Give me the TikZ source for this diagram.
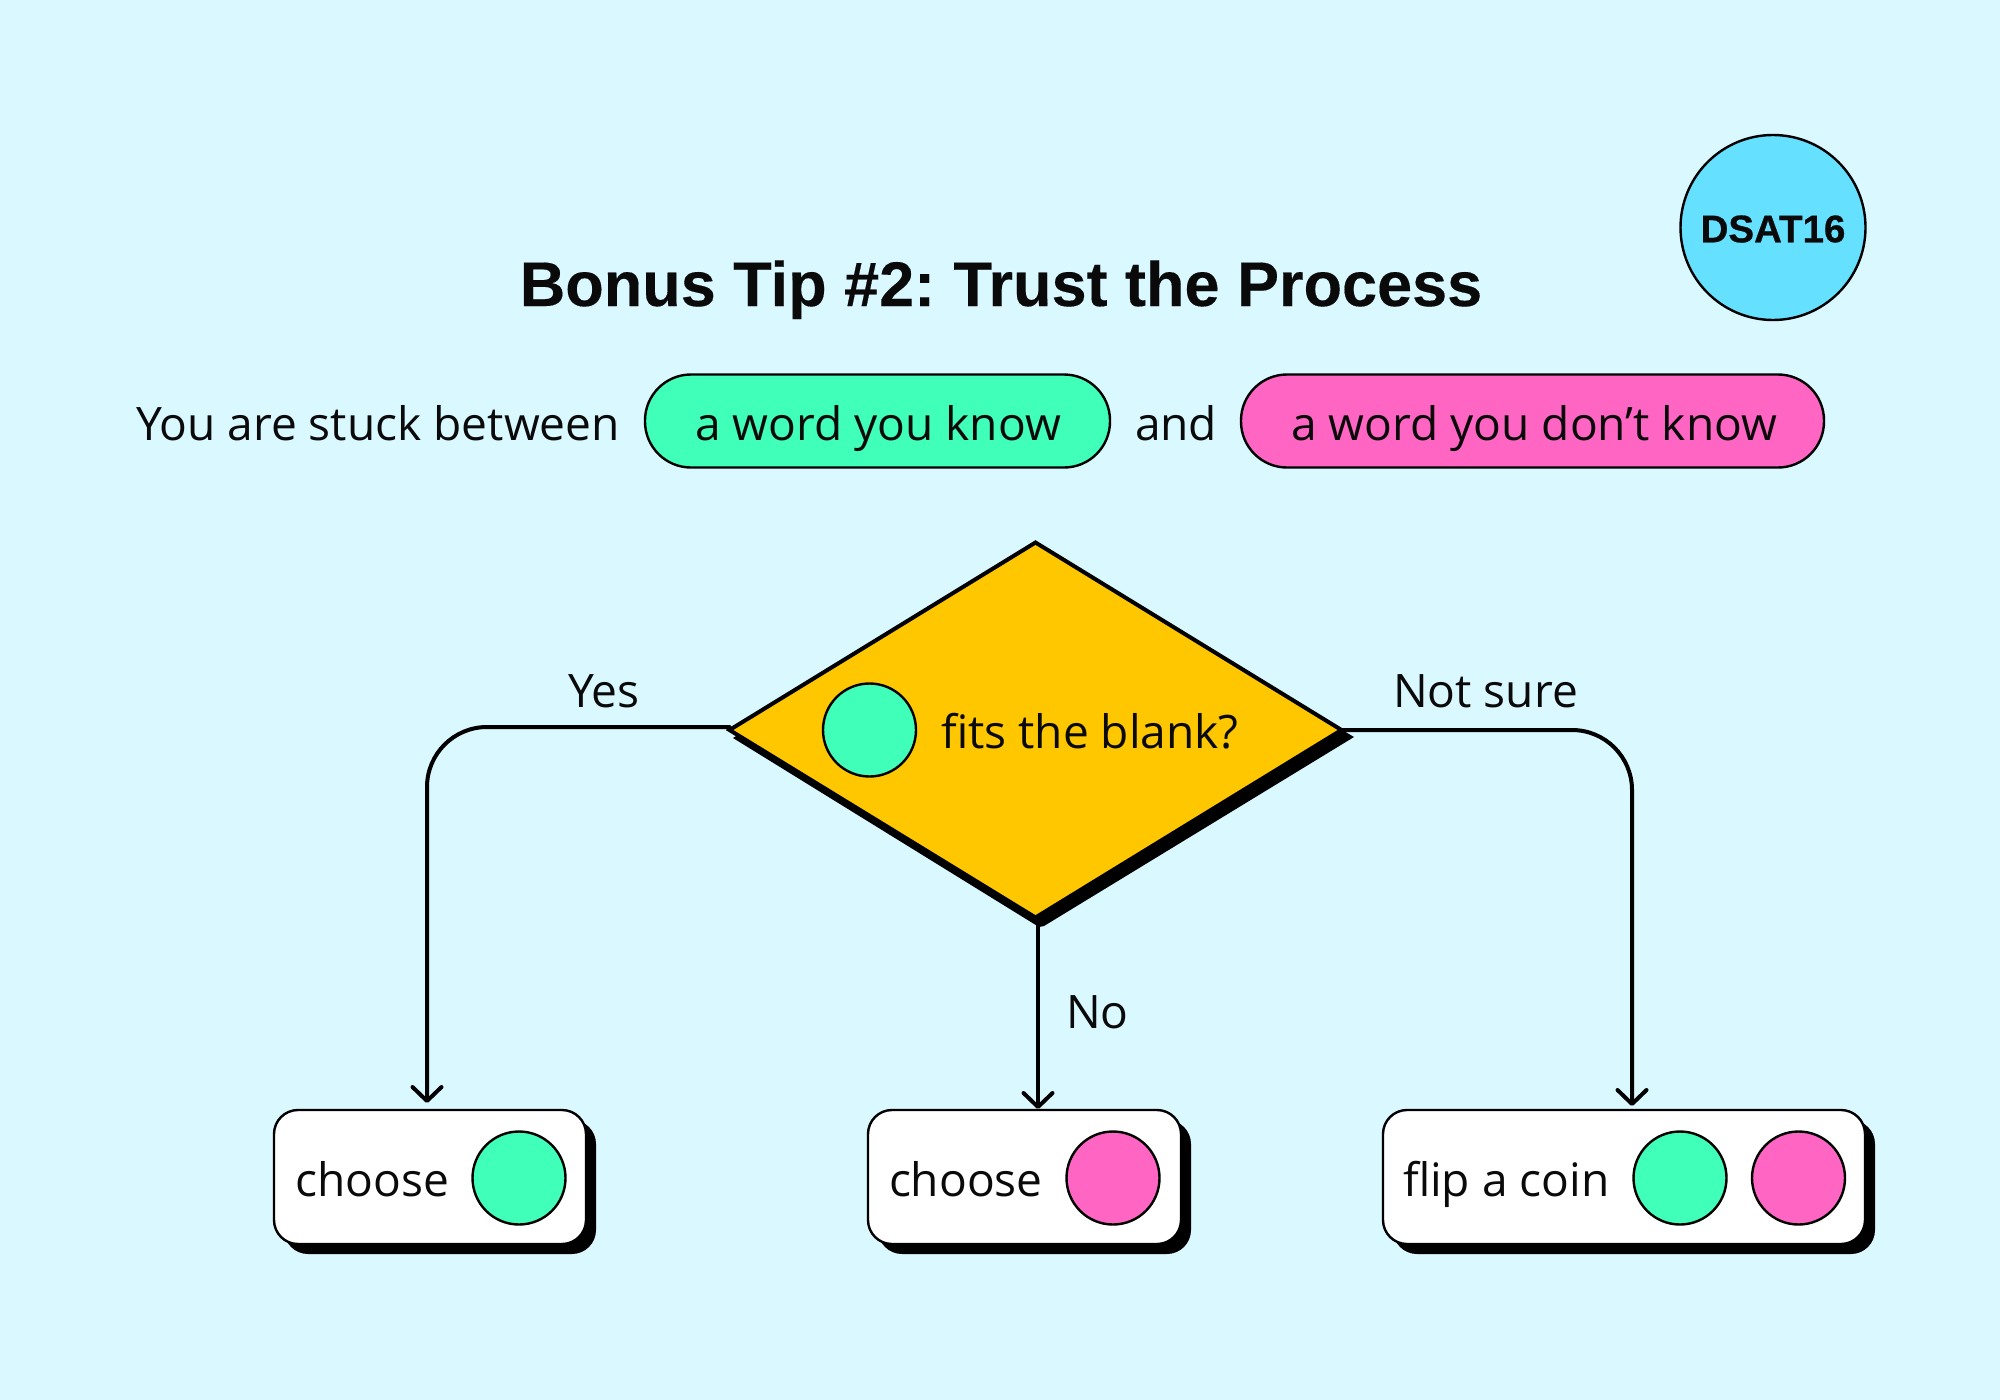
\documentclass[tikz,border=0pt]{standalone}
\usepackage{fontspec}
\setmainfont{Open Sans}
\newfontfamily\headf{Liberation Sans Bold}[FakeBold=0.25]
\newfontfamily\badgef{Liberation Sans Bold}[FakeBold=0.6]
\usetikzlibrary{shapes.geometric,arrows.meta}
\definecolor{bgc}{HTML}{D9F8FF}
\definecolor{mint}{HTML}{40FFB9}
\definecolor{pinkc}{HTML}{FF66C4}
\definecolor{gold}{HTML}{FFC700}
\definecolor{sky}{HTML}{66E0FF}
\definecolor{inkc}{HTML}{0A0A0A}
\tikzset{
  body/.style={anchor=base west,inner sep=0pt,outer sep=0pt,text=inkc,font=\fontsize{46.1}{52}\selectfont},
  dot/.style={circle,draw=black,line width=2.4pt,minimum size=93pt,inner sep=0pt,outer sep=0pt},
  pill/.style={draw=black,line width=2.4pt,rounded corners=46pt,inner sep=0pt,outer sep=0pt,minimum height=93pt},
  card/.style={draw=black,fill=white,line width=2.4pt,rounded corners=24pt,inner sep=0pt,outer sep=0pt,minimum height=134pt},
  shadowcard/.style={fill=black,rounded corners=24pt,inner sep=0pt,outer sep=0pt,minimum height=134pt},
  conn/.style={draw=black,line width=4pt,line cap=round,line join=round,rounded corners=60pt,-{Straight Barb[length=14pt,width=29pt,line width=4pt,round]}}
}
\begin{document}
\begin{tikzpicture}[x=1pt,y=-1pt]
\useasboundingbox (0,0) rectangle (2000,1400);
\fill[bgc] (0,0) rectangle (2000,1400);
% badge and title
\node[dot,fill=sky,minimum size=185pt] (badge) at (1773,227.5) {};
\node[inner sep=0pt,text=inkc,font=\badgef\fontsize{38.5}{42}\selectfont] (badgetext) at (1773,229) {DSAT16};
\node[anchor=base,inner sep=0pt,text=inkc,font=\headf\fontsize{63}{70}\selectfont] (title) at (1001,306) {Bonus Tip \#2:\hspace{-5pt} Trust the Process};
% intro line
\node[body] (intro) at (136,440) {You are stuck between};
\node[pill,fill=mint,minimum width=465pt] (known) at (877.5,421) {};
\node[body] (knowntext) at (695,440) {a word you know};
\node[body] (andword) at (1135,440) {and};
\node[pill,fill=pinkc,minimum width=583pt] (unknown) at (1532.5,421) {};
\node[body] (unknowntext) at (1291,440) {a word you don’t know};
% free ends of the connectors
\coordinate (tipa) at (427,1103);
\coordinate (tipb) at (1038,1109);
\coordinate (tipc) at (1632,1106);
% decision
\fill[black] (733,738) -- (1035,549) -- (1354,737) -- (1044,926) -- (1039,927) -- cycle;
\node[diamond,draw=black,fill=gold,line width=4pt,line join=miter,inner sep=0pt,outer sep=0pt,minimum width=612pt,minimum height=375pt,shape aspect=1.63] (decide) at (1035.5,730) {};
\node[dot,fill=mint] (decdot) at (869.5,730) {};
\node[body] (dectext) at (941,748) {fits the blank?};
% outcome cards
\node[shadowcard,minimum width=312pt] (cardashadow) at (440,1187) {};
\node[card,minimum width=312pt] (carda) at (430,1177) {};
\node[dot,fill=mint] (cardadot) at (519,1178) {};
\node[body] (cardatext) at (295.5,1196) {choose};
\node[shadowcard,minimum width=313pt] (cardbshadow) at (1034.5,1187) {};
\node[card,minimum width=313pt] (cardb) at (1024.5,1177) {};
\node[dot,fill=pinkc] (cardbdot) at (1113,1178) {};
\node[body] (cardbtext) at (889,1196) {choose};
\node[shadowcard,minimum width=482pt] (cardcshadow) at (1634,1187) {};
\node[card,minimum width=482pt] (cardc) at (1624,1177) {};
\node[dot,fill=mint] (cardcdota) at (1680,1178) {};
\node[dot,fill=pinkc] (cardcdotb) at (1798.5,1178) {};
\node[body] (cardctext) at (1403,1196) {flip a coin};
% connectors
\draw[conn] ([yshift=3pt]decide.west) -| (tipa);
\draw[conn] ([xshift=2.5pt]decide.south) -- (tipb);
\draw[conn] ([yshift=0pt]decide.east) -| (tipc);
% connector labels
\node[body] (yeslabel) at (568,707) {Yes};
\node[body] (nolabel) at (1066,1028) {No};
\node[body] (notlabel) at (1393,707) {Not sure};
\end{tikzpicture}
\end{document}
